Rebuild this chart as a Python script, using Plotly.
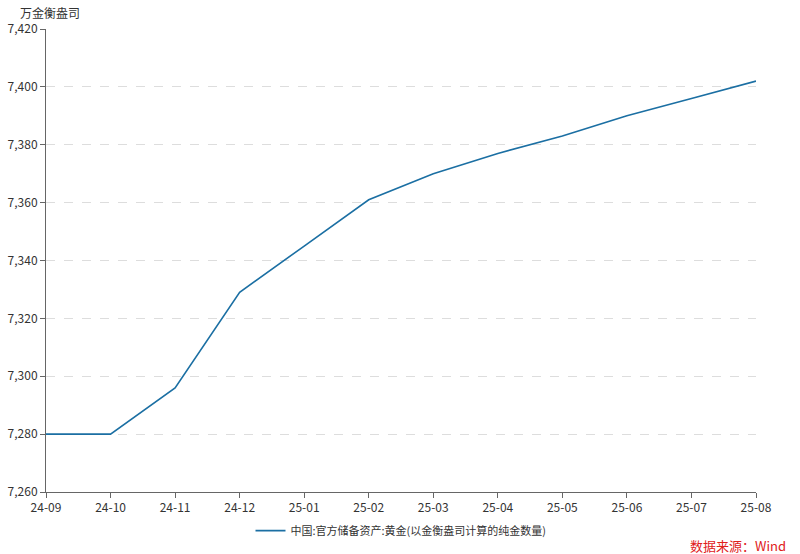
import plotly.graph_objects as go

months = ["24-09", "24-10", "24-11", "24-12", "25-01", "25-02", "25-03",
          "25-04", "25-05", "25-06", "25-07", "25-08"]
gold = [7280, 7280, 7296, 7329, 7345, 7361, 7370, 7377, 7383, 7390, 7396, 7402]
series_name = "中国:官方储备资产:黄金(以金衡盎司计算的纯金数量)"
y_ticks = [7260, 7280, 7300, 7320, 7340, 7360, 7380, 7400, 7420]

FONT = "Noto Sans CJK SC"

fig = go.Figure()
fig.add_trace(go.Scatter(
    x=months, y=gold, mode="lines", name=series_name,
    line=dict(color="#1b6fa3", width=1.6),
))

fig.update_layout(
    width=800, height=554,
    margin=dict(l=46, r=44, t=29, b=62, autoexpand=False),
    paper_bgcolor="white", plot_bgcolor="white",
    font=dict(family=FONT, size=12, color="#333333"),
    showlegend=True,
    legend=dict(orientation="h", x=0.5, xanchor="center", y=-0.052, yanchor="top",
                font=dict(size=11, color="#333333")),
    xaxis=dict(
        type="category", range=[0, len(months) - 1], automargin=False,
        showline=True, linecolor="#666666", linewidth=1,
        ticks="outside", ticklen=5, tickcolor="#666666",
        showgrid=False, zeroline=False,
        tickfont=dict(size=12, color="#333333"),
    ),
    yaxis=dict(
        range=[7260, 7420], tickvals=y_ticks, automargin=False,
        tickformat=",d",
        showline=True, linecolor="#666666", linewidth=1,
        ticks="outside", ticklen=5, tickcolor="#666666",
        showgrid=True, gridcolor="#dddddd", griddash="dash", gridwidth=1,
        zeroline=False,
        tickfont=dict(size=12, color="#333333"),
    ),
    annotations=[
        dict(text="万金衡盎司", xref="paper", yref="paper", x=-0.04, y=1.0,
             xanchor="left", yanchor="middle", yshift=17, showarrow=False,
             font=dict(size=12, color="#333333")),
        dict(text="数据来源：Wind", xref="paper", yref="paper",
             x=1.045, y=0, xanchor="right", yanchor="middle", yshift=-53,
             showarrow=False, font=dict(size=13, color="#e0201a")),
    ],
)

fig.write_html(
    "out.html",
    config={"displayModeBar": False},
    post_script="document.body.style.margin='0px';document.body.style.overflow='hidden';",
)
